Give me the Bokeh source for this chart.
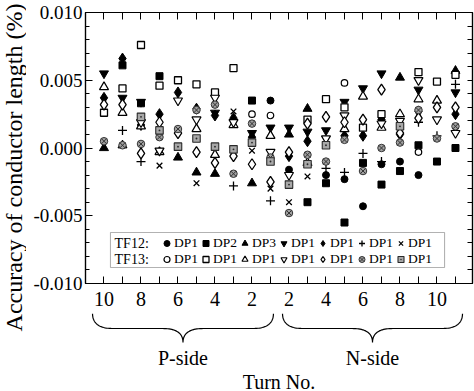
import numpy as np
from bokeh.plotting import figure
from bokeh.models import (Range1d, FixedTicker, LinearAxis, Legend, LegendItem,
                          BoxAnnotation, Label, ColumnDataSource, NumeralTickFormatter)
from bokeh.layouts import column, row
from bokeh.embed import file_html
from bokeh.resources import INLINE

n = float("nan")

# ---------------- data ----------------
turn_pos = list(range(1, 21))
turn_tick_pos = [1, 3, 5, 7, 9, 11, 13, 15, 17, 19]
turn_tick_labels = ["10", "8", "6", "4", "2", "2", "4", "6", "8", "10"]
side_names = ["P-side", "N-side"]
y_ticks = [-0.010, -0.005, 0.0, 0.005, 0.010]
y_minor = [round(-0.010 + 0.001 * i, 4) for i in range(21)]

tf12_dp1_circle = [n, n, n, n, n, n, n, n, n, 0.0035, -0.0016, n, -0.0020, -0.0023, -0.0043, -0.0012, -0.0010, -0.0020, n, n]
tf12_dp2_square = [n, 0.0061, 0.0033, 0.0053, n, n, n, n, 0.0035, n, n, -0.0040, -0.0026, -0.0055, -0.0011, -0.0027, -0.0017, 0.0002, -0.0010, 0.0000]
tf12_dp3_triangle = [0.0000, 0.0002, n, n, -0.0007, -0.0018, -0.0019, n, -0.0026, n, 0.0010, 0.0029, n, n, n, n, 0.0052, n, n, 0.0057]
tf12_dp1_invtri = [0.0055, 0.0037, 0.0034, n, n, n, 0.0026, n, 0.0011, 0.0015, 0.0015, 0.0012, 0.0013, 0.0034, 0.0044, 0.0055, n, 0.0043, n, 0.0041]
tf12_dp1_diamond = [0.0037, 0.0066, 0.0017, 0.0025, 0.0041, 0.0029, 0.0024, 0.0022, 0.0008, n, -0.0006, 0.0005, n, 0.0009, 0.0009, 0.0021, 0.0010, 0.0027, n, 0.0025]
tf12_dp1_plus = [n, 0.0013, -0.0010, n, n, n, n, -0.0028, n, -0.0039, n, n, -0.0015, -0.0018, -0.0004, -0.0010, n, 0.0019, 0.0009, 0.0047]
tf12_dp1_cross = [n, n, n, -0.0013, n, -0.0026, n, 0.0027, -0.0002, -0.0030, -0.0040, -0.0021, n, n, n, n, n, n, n, n]

tf13_dp1_circle = [n, n, n, n, n, n, n, n, 0.0025, 0.0024, n, n, n, 0.0048, n, n, n, -0.0003, n, n]
tf13_dp1_square = [0.0026, 0.0044, 0.0076, 0.0046, 0.0050, 0.0047, 0.0041, 0.0059, n, n, n, 0.0021, 0.0036, 0.0030, 0.0015, 0.0025, n, 0.0056, 0.0049, 0.0054]
tf13_dp1_triangle = [0.0045, 0.0026, 0.0016, -0.0003, n, 0.0014, -0.0005, 0.0017, n, 0.0009, n, -0.0011, n, 0.0014, 0.0038, 0.0015, 0.0025, 0.0036, 0.0035, n]
tf13_dp1_invtri = [n, n, 0.0019, -0.0002, 0.0035, 0.0021, 0.0037, 0.0019, n, -0.0003, -0.0020, n, 0.0007, 0.0024, n, 0.0018, 0.0020, 0.0050, 0.0021, 0.0011]
tf13_dp1_diamond = [0.0032, 0.0032, -0.0004, 0.0019, 0.0011, -0.0003, -0.0011, -0.0006, -0.0012, -0.0025, -0.0003, 0.0018, 0.0023, 0.0019, 0.0021, 0.0043, 0.0011, 0.0022, 0.0030, 0.0030]
tf13_dp1_graycircle = [0.0005, 0.0002, 0.0003, 0.0008, 0.0014, 0.0028, 0.0032, -0.0019, 0.0018, -0.0007, -0.0048, -0.0005, -0.0010, 0.0006, -0.0017, 0.0000, 0.0004, 0.0028, 0.0007, 0.0016]
tf13_dp1_graysquare = [n, n, 0.0023, 0.0013, 0.0001, 0.0007, 0.0001, -0.0001, 0.0004, -0.0010, -0.0027, -0.0012, 0.0002, n, n, n, 0.0016, n, n, n]

tf12_series = [("DP1", tf12_dp1_circle), ("DP2", tf12_dp2_square), ("DP3", tf12_dp3_triangle),
               ("DP1", tf12_dp1_invtri), ("DP1", tf12_dp1_diamond), ("DP1", tf12_dp1_plus),
               ("DP1", tf12_dp1_cross)]
tf13_series = [("DP1", tf13_dp1_circle), ("DP1", tf13_dp1_square), ("DP1", tf13_dp1_triangle),
               ("DP1", tf13_dp1_invtri), ("DP1", tf13_dp1_diamond), ("DP1", tf13_dp1_graycircle),
               ("DP1", tf13_dp1_graysquare)]

# ---------------- styles ----------------
FONT = "Liberation Serif"
tf12_styles = [
    dict(marker="circle", size=7, fill_color="black", line_color="black"),
    dict(marker="square", size=7, fill_color="black", line_color="black"),
    dict(marker="triangle", size=9, fill_color="black", line_color="black"),
    dict(marker="inverted_triangle", size=9, fill_color="black", line_color="black"),
    dict(marker="diamond", size=11, fill_color="black", line_color="black"),
    dict(marker="cross", size=9, line_color="black", line_width=1.3),
    dict(marker="x", size=8, line_color="black", line_width=1.3),
]
tf13_styles = [
    dict(marker="circle", size=6.5, fill_color="white", line_color="black", line_width=1.2),
    dict(marker="square", size=7, fill_color="white", line_color="black", line_width=1.3),
    dict(marker="triangle", size=9, fill_color="white", line_color="black", line_width=1.2),
    dict(marker="inverted_triangle", size=9, fill_color="white", line_color="black", line_width=1.2),
    dict(marker="diamond", size=11, fill_color="white", line_color="black", line_width=1.3),
    dict(marker="circle_x", size=7.5, fill_color="#a0a0a0", line_color="#333333", line_width=1.0),
    dict(marker="square_dot", size=7.5, fill_color="#a8a8a8", line_color="#2a2a2a", line_width=1.1),
]

# ---------------- layout sizes ----------------
TOTAL_W, TOTAL_H = 474, 391
LAB_W = 26
W = TOTAL_W - LAB_W
LEFT, RIGHT, TOP, BOT = 59, 2, 12, 30
FH = 271
PH = TOP + FH + BOT
QH = TOTAL_H - PH
x_rng = Range1d(0.0, 20.92)
y_rng = Range1d(-0.010, 0.010)

p = figure(width=W, height=PH, x_range=x_rng, y_range=y_rng,
           x_axis_type=None, y_axis_type=None, output_backend="svg", toolbar_location=None,
           min_border_left=LEFT, min_border_right=RIGHT, min_border_top=TOP, min_border_bottom=BOT,
           outline_line_color="black", outline_line_width=1.2)
p.xgrid.visible = False
p.ygrid.visible = False


def style_axis(ax, tick_in=7, minor_in=4):
    ax.axis_line_color = "black"
    ax.axis_line_width = 1.2
    ax.major_tick_line_color = "black"
    ax.minor_tick_line_color = "black"
    ax.major_tick_in = tick_in
    ax.major_tick_out = 0
    ax.minor_tick_in = minor_in
    ax.minor_tick_out = 0
    ax.major_label_text_font = FONT
    ax.major_label_text_color = "black"


xb = LinearAxis(ticker=FixedTicker(ticks=turn_tick_pos,
                                   minor_ticks=[t for t in turn_pos if t not in turn_tick_pos]),
                major_label_overrides={t: lab for t, lab in zip(turn_tick_pos, turn_tick_labels)})
style_axis(xb, 7, 7)
xb.major_label_text_font_size = "20px"
xb.major_label_standoff = 8
p.add_layout(xb, "below")

xa = LinearAxis(ticker=FixedTicker(ticks=[], minor_ticks=turn_pos))
style_axis(xa, 7, 7)
xa.major_label_standoff = 0
p.add_layout(xa, "above")

yl = LinearAxis(ticker=FixedTicker(ticks=y_ticks, minor_ticks=y_minor),
                formatter=NumeralTickFormatter(format="0.000"))
style_axis(yl, 7, 4)
yl.major_label_text_font_size = "19px"
yl.major_label_standoff = 3
p.add_layout(yl, "left")

yr = LinearAxis(ticker=FixedTicker(ticks=[], minor_ticks=y_minor))
style_axis(yr, 6, 5)
yr.major_label_standoff = 0
p.add_layout(yr, "right")

items = []
for series, styles in ((tf12_series, tf12_styles), (tf13_series, tf13_styles)):
    for (lab, vals), st in zip(series, styles):
        src = ColumnDataSource(data=dict(x=turn_pos, y=vals))
        r = p.scatter("x", "y", source=src, **st)
        items.append(LegendItem(label=lab, renderers=[r]))

# legend frame and row titles
box = BoxAnnotation(left=1.35, right=19.41, top=-0.00624, bottom=-0.00882,
                    fill_color="white", fill_alpha=1.0, line_color="black", line_width=1.1)
p.add_layout(box)
for txt, yy in (("TF12:", -0.00705), ("TF13:", -0.00823)):
    p.add_layout(Label(x=1.57, y=yy, text=txt, text_font=FONT, text_font_size="14px",
                       text_baseline="middle", text_align="left", text_color="black"))

legend = Legend(items=items, ncols=7, orientation="horizontal", location=(74, 16),
                glyph_width=15, glyph_height=16, label_height=16, label_standoff=0,
                spacing=0, padding=0, margin=0, border_line_color=None,
                background_fill_alpha=0, label_text_font=FONT, label_text_font_size="13.5px",
                label_text_color="black")
p.add_layout(legend)

# ---------------- braces and axis titles below ----------------
q = figure(width=W, height=QH, x_range=x_rng, y_range=Range1d(QH, 0),
           x_axis_type=None, y_axis_type=None, output_backend="svg", toolbar_location=None,
           min_border_left=LEFT, min_border_right=RIGHT, min_border_top=0, min_border_bottom=0,
           outline_line_color=None)
q.xgrid.visible = False
q.ygrid.visible = False


def brace(x0, x1, y0, y1, y2, r):
    xc = (x0 + x1) / 2
    t = np.linspace(0, 1, 24)[:, None]

    def qb(a, c, b):
        a, c, b = np.array(a), np.array(c), np.array(b)
        return (1 - t) ** 2 * a + 2 * (1 - t) * t * c + t ** 2 * b
    segs = [qb((x0, y0), (x0, y1), (x0 + r, y1)),
            np.array([[x0 + r, y1], [xc - r, y1]]),
            qb((xc - r, y1), (xc, y1), (xc, y2)),
            qb((xc, y2), (xc, y1), (xc + r, y1)),
            np.array([[xc + r, y1], [x1 - r, y1]]),
            qb((x1 - r, y1), (x1, y1), (x1, y0))]
    pts = np.vstack(segs)
    return pts[:, 0], pts[:, 1]


spans = [(0.38, 10.16), (10.65, 20.38)]
for (a, b), name in zip(spans, side_names):
    bx, by = brace(a, b, 0, 15, 29, 1.1)
    q.line(bx, by, line_color="black", line_width=1.2)
    q.add_layout(Label(x=(a + b) / 2, y=44, text=name, text_font=FONT, text_font_size="20px",
                       text_align="center", text_baseline="middle", text_color="black"))
q.add_layout(Label(x=(x_rng.start + x_rng.end) / 2, y=68, text="Turn No.", text_font=FONT,
                   text_font_size="20px", text_align="center", text_baseline="middle",
                   text_color="black"))

# y-axis title in its own narrow strip, so it can run past the frame as in the original
lab = figure(width=LAB_W, height=TOTAL_H, x_range=Range1d(0, LAB_W), y_range=Range1d(TOTAL_H, 0),
             x_axis_type=None, y_axis_type=None, output_backend="svg", toolbar_location=None,
             min_border_left=0, min_border_right=0, min_border_top=0, min_border_bottom=0,
             outline_line_color=None)
lab.xgrid.visible = False
lab.ygrid.visible = False
lab.add_layout(Label(x=LAB_W / 2, y=167, text="Accuracy of conductor length (%)", angle=np.pi / 2,
                     text_font=FONT, text_font_size="24px", text_align="center",
                     text_baseline="middle", text_color="black"))

layout = row(lab, column(p, q, spacing=0), spacing=0)
open("out.html", "w").write(file_html(layout, INLINE))
